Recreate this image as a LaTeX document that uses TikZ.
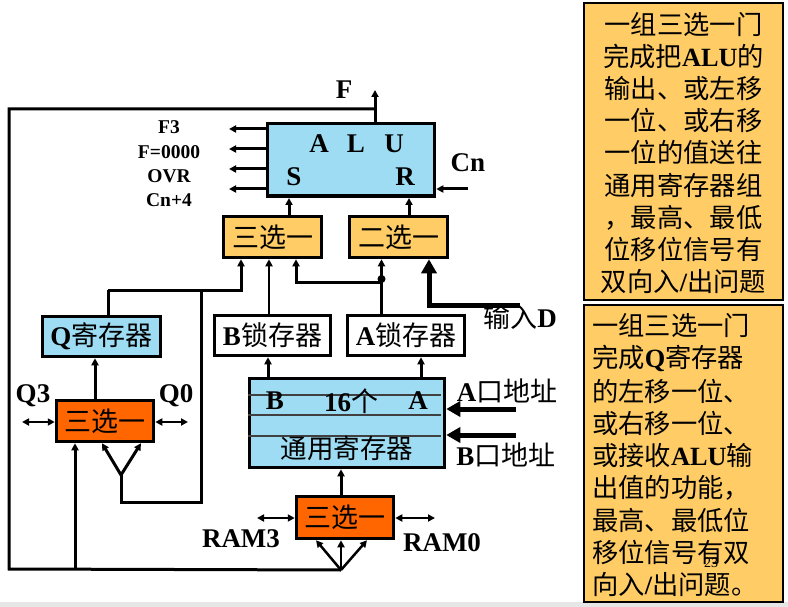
\documentclass[tikz,border=0pt]{standalone}
\usepackage{fontspec}
\setmainfont{Liberation Serif}
\newfontfamily\cjkfont{Noto Sans CJK SC}
\newcommand{\zh}[1]{{\cjkfont\mdseries #1}}
\usetikzlibrary{arrows.meta,calc}
\definecolor{cyanbox}{HTML}{9DDCF2}
\definecolor{yellowbox}{HTML}{FFCC66}
\definecolor{orangebox}{HTML}{FF6600}
\definecolor{pagegray}{HTML}{E6E6E6}
\newcommand{\fs}[1]{\fontsize{#1}{#1}\selectfont}
\tikzset{
  box/.style={draw=black,line width=3.5pt,rectangle,inner sep=0pt,anchor=center},
  lab/.style={inner sep=0pt,font=\bfseries\fs{#1}},
  lab/.default=27,
  wire/.style={line width=3pt,line cap=butt,line join=miter},
  thinwire/.style={line width=2.5pt},
  arr/.style={wire,-{Triangle[length=7pt,width=7pt]}},
  darr/.style={line width=2.5pt,{Triangle[length=7pt,width=7pt]}-{Triangle[length=7pt,width=7pt]}},
  bigarr/.style={line width=5pt,line join=miter,-{Triangle[length=14pt,width=15pt]}},
  panel/.style={draw=black,line width=2pt,fill=yellowbox,inner sep=0pt},
  regline/.style={draw=black!75,line width=1.8pt},
}
\begin{document}
\begin{tikzpicture}[x=1pt,y=-1pt]
\useasboundingbox (0,0) rectangle (788,607);
\fill[pagegray] (0,602) rectangle (788,607);
% panels
\node[panel,minimum width=199pt,minimum height=297pt] (p1) at (683.5,151.5) {};
\node[panel,minimum width=199pt,minimum height=297pt] (p2) at (683.5,453.5) {};
\node[inner sep=0pt,align=center,font=\bfseries\fs{26.3}] (t1) at (683.5,153) {%
\zh{一组三选一门}\\[5.9pt]
\zh{完成把}ALU\zh{的}\\[5.9pt]
\zh{输出、或左移}\\[5.9pt]
\zh{一位、或右移}\\[5.9pt]
\zh{一位的值送往}\\[5.9pt]
\zh{通用寄存器组}\\[5.9pt]
\zh{，最高、最低}\\[5.9pt]
\zh{位移位信号有}\\[5.9pt]
\zh{双向入}/\zh{出问题}};
\node[inner sep=0pt,align=left,anchor=west,font=\bfseries\fs{26.3}] (t2) at (592,455) {%
\zh{一组三选一门}\\[6pt]
\zh{完成}Q\zh{寄存器}\\[6pt]
\zh{的左移一位、}\\[6pt]
\zh{或右移一位、}\\[6pt]
\zh{或接收}ALU\zh{输}\\[6pt]
\zh{出值的功能，}\\[6pt]
\zh{最高、最低位}\\[6pt]
\zh{移位信号有双}\\[6pt]
\zh{向入}/\zh{出问题。}};
\node[inner sep=0pt,font=\fs{14}] (pg) at (711,563) {23};
% boxes
\node[box,fill=cyanbox,minimum width=167pt,minimum height=72.5pt] (alu) at (351,160) {};
\node[box,fill=yellowbox,minimum width=98pt,minimum height=41pt] (s3) at (272.5,237) {};
\node[box,fill=yellowbox,minimum width=98pt,minimum height=41pt] (s2) at (398.5,237) {};
\node[box,fill=white,minimum width=116pt,minimum height=40pt] (bl) at (272.5,335.5) {};
\node[box,fill=white,minimum width=117pt,minimum height=40pt] (al) at (406,335.5) {};
\node[box,fill=cyanbox,minimum width=118pt,minimum height=40pt] (q) at (101.5,336.5) {};
\node[box,fill=orangebox,minimum width=97pt,minimum height=41pt] (ql) at (105,421) {};
\node[box,fill=cyanbox,minimum width=195pt,minimum height=89pt] (reg) at (347,423) {};
\node[box,fill=orangebox,minimum width=97pt,minimum height=42pt] (rs) at (345,517.5) {};
% box texts
\node[lab] (ta) at (319,144) {A};
\node[lab] (tl) at (356,144) {L};
\node[lab] (tu) at (394,144) {U};
\node[lab] (ts) at (294,177) {S};
\node[lab] (tr) at (405,177) {R};
\node[lab] at (s3) (ts3) {\zh{三选一}};
\node[lab] at (s2) (ts2) {\zh{二选一}};
\node[lab] at (bl) (tbl) {B\zh{锁存器}};
\node[lab] at (al) (tal) {A\zh{锁存器}};
\node[lab] at (q) (tq) {Q\zh{寄存器}};
\node[lab] at (ql) (tql) {\zh{三选一}};
\node[lab] at (rs) (trs) {\zh{三选一}};
% register lines
\draw[regline] (reg.west |- 0,395) coordinate (r1l) -- (441,395) coordinate (r1r);
\draw[regline] (reg.west |- 0,415) coordinate (r2l) -- (441,415) coordinate (r2r);
\draw[regline] (reg.west |- 0,436) coordinate (r3l) -- (441,436) coordinate (r3r);
\node[lab] (tb) at (275,401) {B};
\node[lab] (t16) at (351,401) {16\zh{个}};
\node[lab] (taa) at (418,401) {A};
\node[lab=26.5] (tg) at (347,448) {\zh{通用寄存器}};
% coordinates
\coordinate (tl1) at (9,109);
\coordinate (bl1) at (9,569);
\coordinate (fork) at (341,570);
\coordinate (ftop) at (375,90);
\coordinate (j1) at (108,290);
\coordinate (j2) at (201,290);
\coordinate (j3) at (201,502);
\coordinate (j4) at (121,502);
\coordinate (j5) at (121,475);
\coordinate (dot) at (381.5,279);
\coordinate (cn) at (468,189);
\coordinate (dend) at (520,305);
\coordinate (dturn) at (429,305);
\coordinate (ae) at (516,409);
\coordinate (be) at (516,435);
% ALU outputs
\draw[arr] (alu.west |- 0,129) -- (229,129) coordinate (f3);
\draw[arr] (alu.west |- 0,149) -- (229,149) coordinate (f0);
\draw[arr] (alu.west |- 0,169) -- (229,169) coordinate (ov);
\draw[arr] (alu.west |- 0,189) -- (229,189) coordinate (c4);
\draw[arr] (alu.north -| ftop) -- (ftop);
\draw[wire] (ftop |- tl1) -- (tl1) -- (bl1) -- (fork);
\draw[arr] (cn) -- (alu.east |- cn);
% mux to ALU
\draw[arr] (s3.north -| 289,0) -- (alu.south -| 289,0);
\draw[arr] (s2.north -| 409,0) -- (alu.south -| 409,0);
% into top 3-1
\draw[wire] (q.north -| j1) -- (j1);
\draw[arr] (j1) -- (241,290) -- (s3.south -| 241,0);
\draw[arr,thinwire] (bl.north -| 269,0) -- (s3.south -| 269,0);
\draw[arr] (dot |- 0,282) -- (296,282) -- (s3.south -| 296,0);
\draw[arr] (al.north -| dot) -- (s2.south -| dot);
\fill (dot) circle (4pt);
% D input
\draw[bigarr] (dend) -- (dturn) -- (s2.south -| dturn);
% Q parts
\draw[arr] (ql.north -| 95,0) -- (q.south -| 95,0);
\draw[wire] (j2) -- (j3) -- (j4) -- (j5);
\draw[arr] (j5) -- (ql.south -| 102,0);
\draw[arr] (j5) -- (ql.south -| 141,0);
\draw[arr] (bl1 -| 75,0) -- (ql.south -| 75,0);
\draw[darr] (22,422) coordinate (q3e) -- (ql.west |- q3e);
\draw[darr] (ql.east |- 0,422) -- (188,422) coordinate (q0e);
% register
\draw[arr] (reg.north -| 268,0) -- (bl.south -| 268,0);
\draw[arr] (reg.north -| 421,0) -- (al.south -| 421,0);
\draw[arr] (rs.north -| 341,0) -- (reg.south -| 341,0);
\draw[bigarr] (ae) -- (reg.east |- ae);
\draw[bigarr] (be) -- (reg.east |- be);
% RAM
\draw[darr] (257,518) coordinate (r3e) -- (rs.west |- r3e);
\draw[darr] (rs.east |- 0,518) -- (435,518) coordinate (r0e);
\draw[arr,thinwire] (fork) -- (rs.south -| 316,0);
\draw[arr,thinwire] (fork) -- (rs.south -| 341,0);
\draw[arr,thinwire] (fork) -- (rs.south -| 367,0);
% labels
\node[lab] (lf) at (344,90) {F};
\node[lab=19.5] (l1) at (169,127) {F3};
\node[lab=19.5] (l2) at (169,152) {F=0000};
\node[lab=19.5] (l3) at (169,176) {OVR};
\node[lab=19.5] (l4) at (169,200) {Cn+4};
\node[lab] (lcn) at (468,163) {Cn};
\node[lab] (ld) at (520,317) {\zh{输入}D};
\node[lab] (lq3) at (33,396) {Q3};
\node[lab] (lq0) at (176,396) {Q0};
\node[lab] (lpa) at (507,391) {A\zh{口地址}};
\node[lab] (lpb) at (506,455) {B\zh{口地址}};
\node[lab] (lr3) at (241,539) {RAM3};
\node[lab] (lr0) at (442,543) {RAM0};
\end{tikzpicture}
\end{document}
